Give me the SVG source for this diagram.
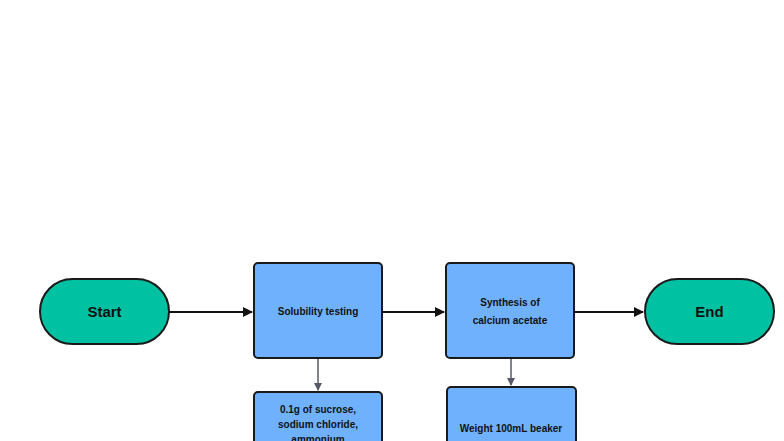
<svg xmlns="http://www.w3.org/2000/svg" width="784" height="441" viewBox="0 0 784 441">
<style>
.n{fill:#6fb1fc;stroke:#1a1a1a;stroke-width:2}
.t{fill:#00c2a3;stroke:#1a1a1a;stroke-width:2}
text{font-family:"Liberation Sans",Arial,sans-serif;font-weight:bold;fill:#111;text-anchor:middle}
.s{font-size:10px}
.b{font-size:15px}
.c{stroke:#111;stroke-width:2;fill:none}
.d{stroke:#555a66;stroke-width:1.5;fill:none}
</style>
<defs>
<marker id="a" markerWidth="10" markerHeight="10" refX="9" refY="5" orient="auto" markerUnits="userSpaceOnUse"><path d="M0,0L10,5L0,10z" fill="#111"/></marker>
<marker id="g" markerWidth="8" markerHeight="8" refX="7" refY="4" orient="auto" markerUnits="userSpaceOnUse"><path d="M0,0L8,4L0,8z" fill="#555a66"/></marker>
</defs>
<g id="connectors">
<path class="c" d="M169,312H252" marker-end="url(#a)"/>
<path class="c" d="M383,312H444" marker-end="url(#a)"/>
<path class="c" d="M575,312H643" marker-end="url(#a)"/>
<path class="d" d="M318,359V390" marker-end="url(#g)"/>
<path class="d" d="M511,359V385" marker-end="url(#g)"/>
</g>
<g id="start"><rect class="t" x="40" y="279" width="129" height="65" rx="32.5"/><text class="b" x="104.5" y="317">Start</text></g>
<g id="solubility"><rect class="n" x="254" y="263" width="128" height="95" rx="4"/><text class="s" x="318" y="315">Solubility testing</text></g>
<g id="synthesis"><rect class="n" x="446" y="263" width="128" height="95" rx="4"/><text class="s" x="510" y="306">Synthesis of</text><text class="s" x="510" y="324">calcium acetate</text></g>
<g id="end"><rect class="t" x="645" y="279" width="129" height="65" rx="32.5"/><text class="b" x="709.5" y="317">End</text></g>
<g id="samples"><rect class="n" x="254" y="392" width="128" height="80" rx="4"/><text class="s" x="318" y="413">0.1g of sucrose,</text><text class="s" x="318" y="428">sodium chloride,</text><text class="s" x="318" y="443">ammonium</text></g>
<g id="weigh"><rect class="n" x="447" y="387" width="129" height="80" rx="4"/><text class="s" x="511" y="432">Weight 100mL beaker</text></g>
</svg>
